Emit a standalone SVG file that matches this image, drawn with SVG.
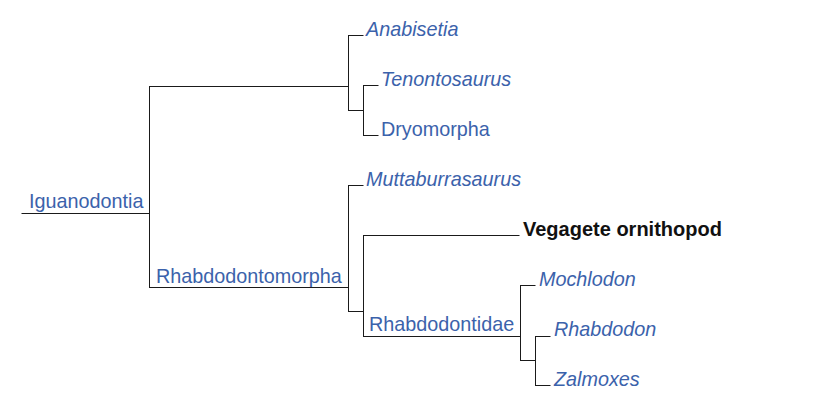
<svg xmlns="http://www.w3.org/2000/svg" width="815" height="407" viewBox="0 0 815 407">
<style>
.bg{fill:#ffffff}
.ln{fill:none;stroke:#1a1a1a;stroke-width:1;stroke-linecap:square}
.t{font-family:"Liberation Sans",Arial,sans-serif;font-size:19.8px;fill:#3b62ab}
.i{font-style:italic}
.b{font-weight:bold;fill:#111111;font-size:20px}
</style>
<rect class="bg" x="0" y="0" width="815" height="407"/>
<g id="connectors">
<path class="ln" d="M22,213.5 H149.5 M149.5,86.5 V287.5"/>
<path class="ln" d="M149.5,86.5 H348.5 M348.5,35.5 V110.5 M348.5,35.5 H363 M348.5,110.5 H363.5 M363.5,85.5 V135.5 M363.5,85.5 H378 M363.5,135.5 H378"/>
<path class="ln" d="M149.5,287.5 H348.5 M348.5,185.5 V311.5 M348.5,185.5 H363 M348.5,311.5 H363.5 M363.5,235.5 V336.5 M363.5,235.5 H519 M363.5,336.5 H520.5"/>
<path class="ln" d="M520.5,285.5 V360.5 M520.5,285.5 H535 M520.5,360.5 H535.5 M535.5,336.5 V385.5 M535.5,336.5 H550 M535.5,385.5 H550"/>
</g>
<g id="iguanodontia"><text class="t" x="29" y="208">Iguanodontia</text></g>
<g id="anabisetia"><text class="t i" x="366" y="36">Anabisetia</text></g>
<g id="tenontosaurus"><text class="t i" x="381" y="86">Tenontosaurus</text></g>
<g id="dryomorpha"><text class="t" x="381" y="136">Dryomorpha</text></g>
<g id="rhabdodontomorpha"><text class="t" x="156" y="283">Rhabdodontomorpha</text></g>
<g id="muttaburrasaurus"><text class="t i" x="366" y="186">Muttaburrasaurus</text></g>
<g id="vegagete"><text class="t b" x="523" y="236">Vegagete ornithopod</text></g>
<g id="rhabdodontidae"><text class="t" x="369" y="331">Rhabdodontidae</text></g>
<g id="mochlodon"><text class="t i" x="539" y="286">Mochlodon</text></g>
<g id="rhabdodon"><text class="t i" x="554" y="336">Rhabdodon</text></g>
<g id="zalmoxes"><text class="t i" x="554" y="386">Zalmoxes</text></g>
</svg>
